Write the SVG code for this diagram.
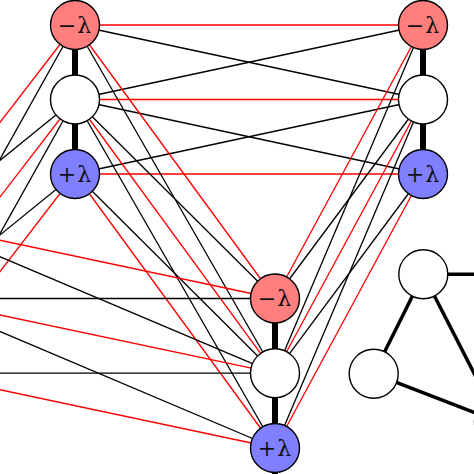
<svg xmlns="http://www.w3.org/2000/svg" width="474" height="474" viewBox="0 0 474 474">
<style>
.r{stroke:#ff0000;stroke-width:1.3;fill:none}
.k{stroke:#000;stroke-width:1.3;fill:none}
.t{stroke:#000;stroke-width:6;fill:none}
.b{stroke:#000;stroke-width:3.5;fill:none}
.n{stroke:#000;stroke-width:1.4}
.neg{fill:#ff7f7f}
.zero{fill:#fff}
.pos{fill:#7f7fff}
.lbl{font-family:"DejaVu Serif",serif;font-size:22px;text-anchor:middle;fill:#111;letter-spacing:1px}
</style>
<rect width="474" height="474" fill="#fff"/>
<g id="connectors">
<line class="r" x1="75" y1="25" x2="423" y2="25"/>
<line class="r" x1="75" y1="99.5" x2="423" y2="99.5"/>
<line class="r" x1="75" y1="174" x2="423" y2="174"/>
<line class="k" x1="75" y1="25" x2="423" y2="99.5"/>
<line class="k" x1="75" y1="99.5" x2="423" y2="25"/>
<line class="k" x1="75" y1="99.5" x2="423" y2="174"/>
<line class="k" x1="75" y1="174" x2="423" y2="99.5"/>
<line class="r" x1="75" y1="25" x2="275" y2="298.5"/>
<line class="r" x1="75" y1="99.5" x2="275" y2="373.2"/>
<line class="r" x1="75" y1="174" x2="275" y2="448"/>
<line class="k" x1="75" y1="25" x2="275" y2="373.2"/>
<line class="k" x1="75" y1="99.5" x2="275" y2="298.5"/>
<line class="k" x1="75" y1="99.5" x2="275" y2="448"/>
<line class="k" x1="75" y1="174" x2="275" y2="373.2"/>
<line class="r" x1="423" y1="25" x2="275" y2="298.5"/>
<line class="r" x1="423" y1="99.5" x2="275" y2="373.2"/>
<line class="r" x1="423" y1="174" x2="275" y2="448"/>
<line class="k" x1="423" y1="25" x2="275" y2="373.2"/>
<line class="k" x1="423" y1="99.5" x2="275" y2="298.5"/>
<line class="k" x1="423" y1="99.5" x2="275" y2="448"/>
<line class="k" x1="423" y1="174" x2="275" y2="373.2"/>
<line class="r" x1="75" y1="25" x2="-78" y2="223.75"/>
<line class="r" x1="75" y1="99.5" x2="-78" y2="298.5"/>
<line class="r" x1="75" y1="174" x2="-78" y2="373.2"/>
<line class="k" x1="75" y1="25" x2="-78" y2="298.5"/>
<line class="k" x1="75" y1="99.5" x2="-78" y2="223.75"/>
<line class="k" x1="75" y1="99.5" x2="-78" y2="373.2"/>
<line class="k" x1="75" y1="174" x2="-78" y2="298.5"/>
<line class="r" x1="-78" y1="223.75" x2="275" y2="298.5"/>
<line class="r" x1="-78" y1="298.5" x2="275" y2="373.2"/>
<line class="r" x1="-78" y1="373.2" x2="275" y2="448"/>
<line class="k" x1="-78" y1="223.75" x2="275" y2="373.2"/>
<line class="k" x1="-78" y1="298.5" x2="275" y2="298.5"/>
<line class="k" x1="-78" y1="298.5" x2="275" y2="448"/>
<line class="k" x1="-78" y1="373.2" x2="275" y2="373.2"/>
<line class="t" x1="75" y1="-30" x2="75" y2="174"/>
<line class="t" x1="423" y1="-30" x2="423" y2="174"/>
<line class="t" x1="275" y1="298.5" x2="275" y2="500"/>
<line class="b" x1="423.3" y1="274.2" x2="600" y2="274.2"/>
<line class="b" x1="423.3" y1="274.2" x2="499" y2="422"/>
<line class="b" x1="423.3" y1="274.2" x2="373.7" y2="373.7"/>
<line class="b" x1="373.7" y1="373.7" x2="499" y2="422"/>
</g>
<g id="left-neg"><circle class="n neg" cx="75" cy="25" r="24.5"/><text class="lbl" x="75" y="32.5">−λ</text></g>
<g id="left-zero"><circle class="n zero" cx="75" cy="99.5" r="24.5"/></g>
<g id="left-pos"><circle class="n pos" cx="75" cy="174" r="24.5"/><text class="lbl" x="75" y="181.5">+λ</text></g>
<g id="right-neg"><circle class="n neg" cx="423" cy="25" r="24.5"/><text class="lbl" x="423" y="32.5">−λ</text></g>
<g id="right-zero"><circle class="n zero" cx="423" cy="99.5" r="24.5"/></g>
<g id="right-pos"><circle class="n pos" cx="423" cy="174" r="24.5"/><text class="lbl" x="423" y="181.5">+λ</text></g>
<g id="mid-neg"><circle class="n neg" cx="275" cy="298.5" r="24.5"/><text class="lbl" x="275" y="306">−λ</text></g>
<g id="mid-zero"><circle class="n zero" cx="275" cy="373.2" r="24.5"/></g>
<g id="mid-pos"><circle class="n pos" cx="275" cy="448" r="24.5"/><text class="lbl" x="275" y="455.5">+λ</text></g>
<g id="base-a"><circle class="n zero" cx="423.3" cy="274.2" r="24.5"/></g>
<g id="base-b"><circle class="n zero" cx="373.7" cy="373.7" r="24.5"/></g>
<g id="base-d"><circle class="n zero" cx="499" cy="422" r="24.5"/></g>
</svg>
